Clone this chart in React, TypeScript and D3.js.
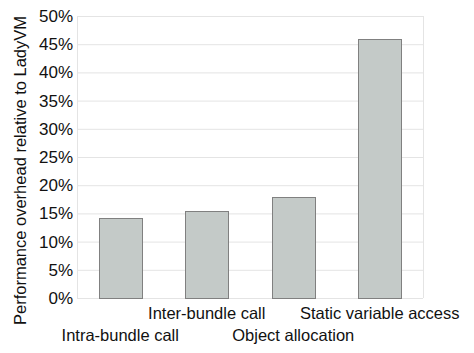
import React, { useEffect, useRef } from 'react';
import * as d3 from 'd3';

const categories = ['Intra-bundle call', 'Inter-bundle call', 'Object allocation', 'Static variable access'];
const overhead = [14.2, 15.5, 17.9, 45.9];
const yTicks = [0, 5, 10, 15, 20, 25, 30, 35, 40, 45, 50];

export default function App() {
  const ref = useRef<SVGSVGElement>(null);

  useEffect(() => {
    const svg = d3.select(ref.current);
    svg.selectAll('*').remove();

    const left = 77, right = 423, top = 16, bottom = 298;
    const font = '"Liberation Sans", Arial, Helvetica, sans-serif';

    const x = d3.scaleBand().domain(categories).range([left, right]).paddingInner(0.5).paddingOuter(0.25);
    const y = d3.scaleLinear().domain([0, 50]).range([bottom, top]);

    const g = svg.append('g');

    g.selectAll('.grid')
      .data(yTicks)
      .enter()
      .append('line')
      .attr('class', 'grid')
      .attr('x1', left)
      .attr('x2', right)
      .attr('y1', d => y(d) + 0.5)
      .attr('y2', d => y(d) + 0.5)
      .attr('stroke', '#e4e4e4')
      .attr('stroke-width', 1);

    // frame sides
    g.append('line')
      .attr('x1', left + 0.5).attr('x2', left + 0.5)
      .attr('y1', top).attr('y2', bottom)
      .attr('stroke', '#e4e4e4');
    g.append('line')
      .attr('x1', right + 0.5).attr('x2', right + 0.5)
      .attr('y1', top).attr('y2', bottom)
      .attr('stroke', '#e4e4e4');

    g.selectAll('.bar')
      .data(overhead)
      .enter()
      .append('rect')
      .attr('class', 'bar')
      .attr('x', (d, i) => Math.round(x(categories[i])!) + 0.5)
      .attr('y', d => Math.round(y(d)) + 0.5)
      .attr('width', Math.round(x.bandwidth()))
      .attr('height', d => Math.round(y(0)) - Math.round(y(d)))
      .attr('fill', '#c4cac8')
      .attr('stroke', '#808080')
      .attr('stroke-width', 1);

    g.selectAll('.ytick')
      .data(yTicks)
      .enter()
      .append('text')
      .attr('class', 'ytick')
      .attr('x', 73)
      .attr('y', d => y(d))
      .attr('dy', '0.35em')
      .attr('text-anchor', 'end')
      .attr('font-family', font)
      .attr('font-size', 17)
      .attr('fill', '#111')
      .text(d => d + '%');

    g.selectAll('.xlabel')
      .data(categories)
      .enter()
      .append('text')
      .attr('class', 'xlabel')
      .attr('x', d => x(d)! + x.bandwidth() / 2)
      .attr('y', (d, i) => (i % 2 === 0 ? 335 : 313))
      .attr('dy', '0.35em')
      .attr('text-anchor', 'middle')
      .attr('font-family', font)
      .attr('font-size', 16.5)
      .attr('fill', '#111')
      .text(d => d);

    g.append('text')
      .attr('transform', `translate(20,${(top + 325) / 2}) rotate(-90)`)
      .attr('dy', '0.35em')
      .attr('text-anchor', 'middle')
      .attr('font-family', font)
      .attr('font-size', 16.5)
      .attr('fill', '#111')
      .text('Performance overhead relative to LadyVM');
  }, []);

  return (
    <svg
      ref={ref}
      width={474}
      height={353}
      style={{ position: 'absolute', left: 0, top: 0, background: '#fff' }}
    />
  );
}
